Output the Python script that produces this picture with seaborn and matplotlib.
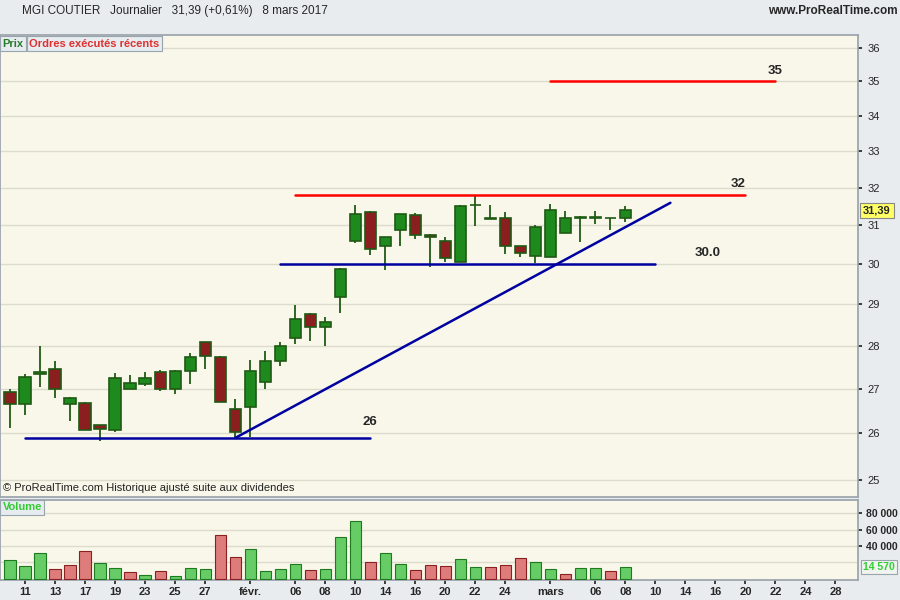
import numpy as np
import pandas as pd
import matplotlib
matplotlib.use("Agg")
import matplotlib.pyplot as plt
import seaborn as sns

opens  = [26.92,26.66,27.34,27.45,26.66,26.68,26.19,26.08,26.99,27.11,27.39,26.99,27.41,28.08,27.73,26.54,26.58,27.15,27.63,28.17,28.76,28.44,29.17,30.60,31.34,30.47,30.86,31.27,30.74,30.58,30.04,31.52,31.17,31.18,30.47,30.21,30.17,30.79,31.19,31.20,31.18,31.18]
highs  = [26.99,27.34,28.00,27.65,26.82,26.70,26.19,27.37,27.32,27.39,27.44,27.42,27.83,28.08,27.75,26.77,27.67,27.87,28.08,28.98,28.78,28.69,29.90,31.53,31.36,30.69,31.30,31.32,30.76,30.69,31.52,31.80,31.53,31.35,30.47,31.01,31.55,31.37,31.25,31.37,31.19,31.51]
lows   = [26.12,26.40,27.03,26.80,26.27,26.08,25.83,26.02,26.99,27.07,26.94,26.87,27.10,27.45,26.70,25.93,25.93,27.00,27.53,28.04,28.12,27.98,28.78,30.53,30.22,29.85,30.47,30.63,29.92,30.06,30.04,30.98,31.15,30.25,30.18,30.03,30.17,30.79,30.55,31.04,30.88,31.07]
closes = [26.66,27.27,27.39,26.99,26.79,26.08,26.10,27.25,27.13,27.25,26.99,27.41,27.73,27.75,26.70,26.03,27.41,27.63,27.99,28.64,28.44,28.56,29.88,31.29,30.37,30.69,31.29,30.74,30.69,30.15,31.50,31.53,31.16,30.47,30.28,30.95,31.39,31.18,31.20,31.21,31.18,31.39]
volumes = [22440,15100,31000,11400,16300,33500,18800,12600,7750,4080,9000,2860,12600,11400,53000,26100,35900,9000,11400,17500,10200,11400,50600,70200,20000,31000,17500,10200,16300,15100,23700,13900,13900,16300,24900,20000,11400,5300,12600,12600,9000,14570]
tick_idx = [1,3,5,7,9,11,13,16,19,21,23,25,27,29,31,33,36,39,41,43,45,47,49,51,53,55]
tick_labels = ["11","13","17","19","23","25","27","févr.","06","08","10","14","16","20","22","24","mars","06","08","10","14","16","20","22","24","28"]
price_ticks = [25,26,27,28,29,30,31,32,33,34,35,36]
vol_ticks = [40000,60000,80000]
vol_tick_labels = ["40 000","60 000","80 000"]
# drawn levels: (x0, x1, y0, y1)
lines_blue = [(1,24,25.90,25.90),(18,43,30.0,30.0),(15,44,25.90,31.59)]
lines_red = [(19,49,31.80,31.80),(36,51,35.0,35.0)]
level_labels = [(24,26.25,"26"),(46.5,30.28,"30.0"),(48.5,32.10,"32"),(51,35.30,"35")]

sns.set_theme(style="white")
plt.rcParams['font.family'] = ['Liberation Sans', 'DejaVu Sans']
bg = "#f8f7ea"
fig = plt.figure(figsize=(9,6), dpi=100, facecolor="#e9ecee")
n = len(opens)
idx = np.arange(n)
xl = (-0.67, 56.5)

ax = fig.add_axes([0, 103/600, 858/900, 462/600])
ax.set_facecolor(bg)
ax.set_yscale("log")
ax.set_ylim(24.64, 36.40)
ax.set_xlim(*xl)
for p in price_ticks:
    ax.axhline(p, color="#dcdccc", lw=1, zorder=0)
o = np.array(opens); c = np.array(closes)
up = c >= o
ax.vlines(idx, lows, highs, color="#1f5a14", lw=1.3, zorder=2)
bot = np.minimum(o, c); top = np.maximum(o, c)
hgt = np.maximum(top - bot, 0.02)
ax.bar(idx, hgt, bottom=bot, width=0.75, color=np.where(up, "#1e8a1e", "#8b1e1e"),
       edgecolor="#1f5a14", lw=1.2, zorder=3)
for x0,x1,y0,y1 in lines_blue:
    ax.plot([x0,x1],[y0,y1], color="#0000a0", lw=1.8, zorder=4)
for x0,x1,y0,y1 in lines_red:
    ax.plot([x0,x1],[y0,y1], color="#ff0000", lw=1.8, zorder=4)
for x,y,t in level_labels:
    ax.text(x, y, t, fontsize=9.5, fontweight="bold", ha="center", va="center")
ax.yaxis.tick_right()
ax.set_yticks(price_ticks)
ax.set_yticklabels([str(p) for p in price_ticks], fontsize=8)
ax.minorticks_off()
ax.tick_params(axis="y", length=3, pad=4, right=True)
ax.set_xticks([])
for s in ax.spines.values():
    s.set_color("#9aa4ac")
ax.text(0.003, 0.008, "© ProRealTime.com Historique ajusté suite aux dividendes", transform=ax.transAxes,
        fontsize=8, va="bottom", color="#222222")
ax.text(1.006, np.log(31.39/24.64)/np.log(36.40/24.64), "31,39", transform=ax.transAxes, fontsize=8,
        fontweight="bold", va="center", ha="left",
        bbox=dict(boxstyle="square,pad=0.25", fc="#ffff66", ec="#888888", lw=0.8))
ax.text(0.003, 0.992, "Prix", transform=ax.transAxes, fontsize=8, fontweight="bold", color="#2a7a2a",
        va="top", bbox=dict(boxstyle="square,pad=0.2", fc="#e6ecef", ec="#9aa4ac", lw=0.8))
ax.text(0.034, 0.992, "Ordres exécutés récents", transform=ax.transAxes, fontsize=8, fontweight="bold",
        color="#e03030", va="top", bbox=dict(boxstyle="square,pad=0.2", fc="#e6ecef", ec="#9aa4ac", lw=0.8))

# Volume
axv = fig.add_axes([0, 20/600, 858/900, 80/600])
axv.set_facecolor(bg)
vol_dir = ["up"] + ["up" if closes[i] > closes[i-1] else "down" for i in range(1, n)]
df = pd.DataFrame({"i": idx, "vol": volumes, "dir": vol_dir})
sns.barplot(data=df, x="i", y="vol", hue="dir", palette={"up": "#55dd55", "down": "#ee6b6b"},
            native_scale=True, dodge=False, width=0.75, linewidth=0.8,
            legend=False, ax=axv, zorder=3)
for patch in axv.patches:
    fc = patch.get_facecolor()
    patch.set_edgecolor("#1f7a1f" if fc[1] > 0.6 else "#8a2020")
axv.set_xlim(*xl)
axv.set_ylim(-1600, 96500)
for v in [20000] + vol_ticks:
    axv.axhline(v, color="#dcdccc", lw=1, zorder=0)
axv.yaxis.tick_right()
axv.set_yticks(vol_ticks)
axv.set_yticklabels(vol_tick_labels, fontsize=7.5, fontweight="bold")
axv.tick_params(axis="y", length=3, pad=3, right=True)
axv.set_ylabel(""); axv.set_xlabel("")
axv.set_xticks(tick_idx)
axv.set_xticklabels(tick_labels, fontsize=8, fontweight="bold")
axv.tick_params(axis="x", length=3, pad=2, bottom=True)
for s in axv.spines.values():
    s.set_color("#9aa4ac")
axv.text(1.006, (14570 + 1600) / 98100, "14 570", transform=axv.transAxes, fontsize=7.5,
         fontweight="bold", color="#33cc33", va="center", ha="left",
         bbox=dict(boxstyle="square,pad=0.2", fc="#f0f4f0", ec="#9aa4ac", lw=0.8))
axv.text(0.003, 0.97, "Volume", transform=axv.transAxes, fontsize=8, fontweight="bold", color="#33cc33",
         va="top", bbox=dict(boxstyle="square,pad=0.2", fc="#e6ecef", ec="#9aa4ac", lw=0.8))

fig.text(0.025, 1 - 11/600, "MGI COUTIER   Journalier   31,39 (+0,61%)   8 mars 2017", fontsize=8.5,
         va="center", ha="left")
fig.text(0.997, 1 - 11/600, "www.ProRealTime.com", fontsize=8.5, fontweight="bold", va="center", ha="right")
fig.savefig("out.png", dpi=100, facecolor=fig.get_facecolor())
